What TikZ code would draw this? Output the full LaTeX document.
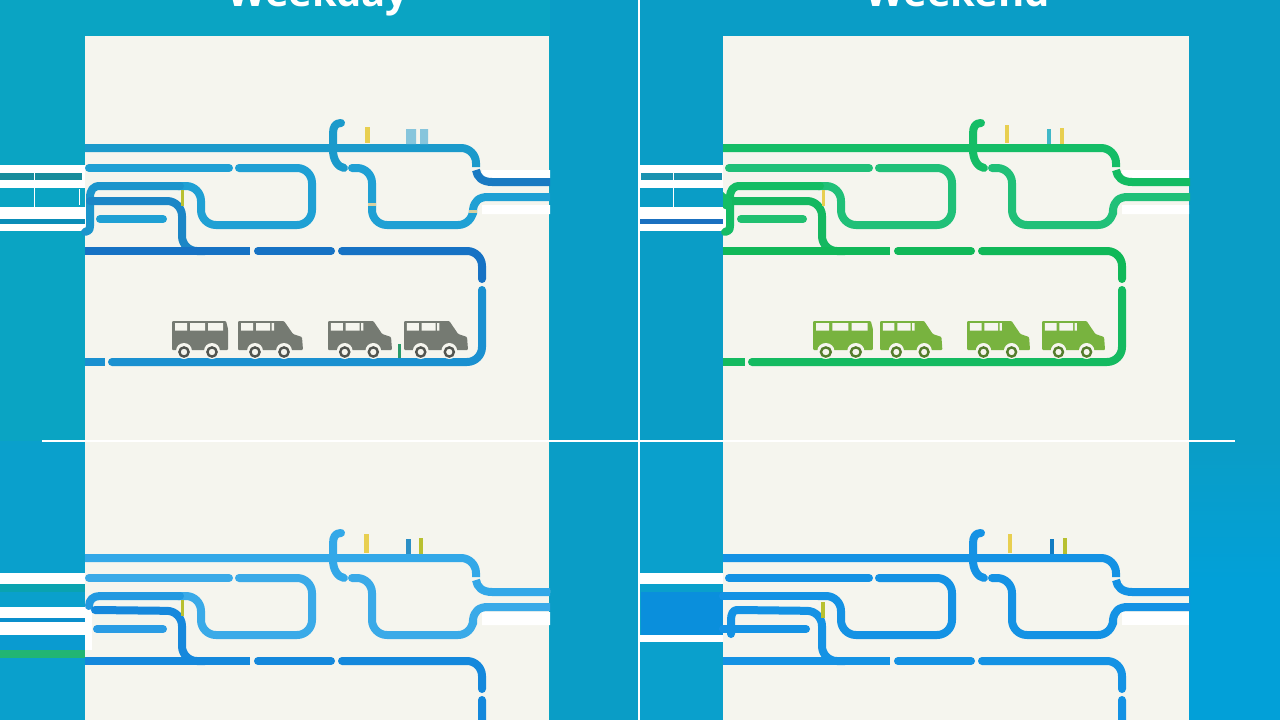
\documentclass[tikz,border=0pt]{standalone}
\usepackage{fontspec}
\setmainfont{Open Sans}
\definecolor{paper}{HTML}{F5F5EE}
\definecolor{bgA}{HTML}{0AA4C3}
\definecolor{bgB}{HTML}{0A9DC6}
\definecolor{bgC}{HTML}{0AA0CC}
\definecolor{bgD}{HTML}{02A0D8}
\definecolor{tickY}{HTML}{E8CF50}
\definecolor{tickO}{HTML}{B8C030}
\definecolor{tileB}{HTML}{86C5DC}
\definecolor{tanM}{HTML}{D8D0A0}
\tikzset{
  rail/.style={line width=8pt,line cap=round,line join=round,rounded corners=15pt},
  band/.style={fill=white,draw=none},
  title/.style={text=white,font=\bfseries\fontsize{40}{40}\selectfont,anchor=base,inner sep=0pt},
  divider/.style={draw=white,line width=2pt},
}
% colours in force: cT cS cA cC cF cB cL cR cH cV ; \xs is the panel's left edge
\newcommand{\rails}[4]{%
  \draw[rail,cT,line cap=butt] (\xs,148) -- (476,148) -- (476,167);
  \draw[rail,cR,rounded corners=0pt,line cap=butt] (476,170) .. controls (477,177) and (482,182) .. (492,182) -- (550,182);
  \draw[rail,cS] (89,168) -- (229,168);
  \draw[rail,cS] (239,168) -- (312,168) -- (312,225) -- (201,225) -- (201,186) -- (178,186);
  \draw[rail,cA,rounded corners=0pt] (180,186) #1;
  \draw[rail,cC] #2 -- (182,201) -- (182,251) -- (205,251);
  #3
  \draw[rail,cB,line cap=butt] (\xs,251) -- (250,251);
  \draw[rail,cB] (258,251) -- (331,251);
  \draw[rail,cB] (342,251) -- (482,251) -- (482,279);
  \draw[rail,cL] (482,290) -- (482,362) -- (112,362);
  \draw[rail,cL,line cap=butt] (\xs,362) -- (105,362);
  \draw[rail,cH,rounded corners=0pt] (341,123) .. controls (335,123) and (333,127) .. (333,134) -- (333,150) .. controls (333,160) and (338,167) .. (344,168);
  \draw[rail,cS] (352,168) -- (372,168) -- (372,225) -- (473,225) -- (473,214);
  \draw[rail,cS,rounded corners=0pt,line cap=butt] (473,210) .. controls (474,201) and (479,197) .. (488,197) -- (550,197);
  #4
}
\newcommand{\van}[3]{% x, y, width scale
  \begin{scope}[shift={(#1,#2)},xscale=#3]
    \fill[cV,rounded corners=1pt] (0,0) -- (46,0) -- (55,13) -- (64,16) -- (65,29) -- (0,29) -- cycle;
    \fill[paper] (3,2) rectangle (15,9.5) (18,2) rectangle (32,9.5) (33.5,2) rectangle (36,9.5);
    \foreach \w in {17,46}{
      \fill[paper] (\w,30) circle (8pt);
      \draw[cV!70!black,line width=2.4pt] (\w,31) circle (4.6pt);
    }
  \end{scope}}
\newcommand{\bus}[3]{%
  \begin{scope}[shift={(#1,#2)},xscale=#3]
    \fill[cV,rounded corners=1pt] (0,0) -- (54,0) -- (56,8) -- (56,29) -- (0,29) -- cycle;
    \fill[paper] (3,2) rectangle (15,9.5) (18,2) rectangle (33,9.5) (36,2) rectangle (51,9.5);
    \foreach \w in {12,40}{
      \fill[paper] (\w,30) circle (8pt);
      \draw[cV!70!black,line width=2.4pt] (\w,31) circle (4.6pt);
    }
  \end{scope}}
\begin{document}
\begin{tikzpicture}[x=1pt,y=-1pt]
\clip (0,0) rectangle (1280,720);
% backgrounds
\fill[bgA] (0,0) rectangle (640,720);
\fill[bgB] (640,0) rectangle (1280,720);
\fill[bgB] (550,0) rectangle (640,720);
\fill[bgC] (0,441) rectangle (85,720);
\fill[bgC] (640,441) rectangle (723,720);
\shade[top color=bgB,bottom color=bgD] (1189,441) rectangle (1280,580);
\fill[bgD] (1189,580) rectangle (1280,720);
\fill[paper] (85,36) rectangle (549,720);
\fill[paper] (723,36) rectangle (1189,720);
\node[title] (weekday) at (318,6) {Weekday};
\node[title] (weekend) at (958,6) {Weekend};
% left bands, top left
\fill[band] (0,165) rectangle (85,188);
\fill[band] (0,207) rectangle (85,231);
\fill[band] (85,207) rectangle (92,231);
\fill[band] (482,170) rectangle (550,178) (482,205) rectangle (550,214);
\fill[color={rgb,255:red,23;green,140;blue,156}] (0,173) rectangle (82,180);
\fill[bgA] (0,188) rectangle (78,207);
\fill[color={rgb,255:red,10;green,141;blue,184}] (0,219) rectangle (85,224);
\draw[white,line width=1pt] (34,173) -- (34,207);
\draw[white,line width=1pt] (79,189) -- (79,205);
% top right bands
\fill[band] (640,165) rectangle (723,188);
\fill[band] (640,207) rectangle (730,231);
\fill[band] (1122,170) rectangle (1189,178) (1122,205) rectangle (1189,214);
\fill[color={rgb,255:red,26;green,146;blue,176}] (641,173) rectangle (722,180);
\fill[bgB] (641,188) rectangle (716,207);
\fill[color={rgb,255:red,26;green,112;blue,192}] (640,219) rectangle (723,224);
\draw[white,line width=1pt] (673,173) -- (673,207);
% bottom left bands
\fill[band] (0,573) rectangle (85,584);
\fill[band] (0,607) rectangle (92,618);
\fill[band] (0,622) rectangle (92,635);
\fill[band] (85,618) rectangle (92,650);
\fill[band] (482,590) rectangle (550,593) (482,612) rectangle (550,625);
\fill[color={rgb,255:red,10;green,163;blue,176}] (0,584) rectangle (85,592);
\fill[color={rgb,255:red,10;green,143;blue,204}] (0,618) rectangle (85,622);
\fill[color={rgb,255:red,10;green,155;blue,208}] (0,635) rectangle (85,650);
\fill[color={rgb,255:red,34;green,181;blue,115}] (0,650) rectangle (85,658);
% bottom right bands
\fill[band] (640,573) rectangle (723,584);
\fill[band] (640,635) rectangle (723,642);
\fill[band] (1122,612) rectangle (1189,625);
\fill[color={rgb,255:red,10;green,143;blue,220}] (641,592) rectangle (723,635);
% panel: top left
\def\xs{85}
\definecolor{cT}{HTML}{1B9ACB}
\definecolor{cS}{HTML}{1FA0D4}
\definecolor{cA}{HTML}{1B95CC}
\definecolor{cC}{HTML}{1B86C6}
\definecolor{cF}{HTML}{1FA0D4}
\definecolor{cB}{HTML}{1672C4}
\definecolor{cL}{HTML}{1A90D0}
\definecolor{cR}{HTML}{1A7AC2}
\definecolor{cH}{HTML}{1B9ACB}
\definecolor{cV}{HTML}{757A72}
\rails{-- (100,186) .. controls (93,186) and (90,190) .. (90,198) -- (90,226) .. controls (90,230) and (88,232) .. (85,232)}
      {(90,201)}
      {\draw[rail,cF] (100,219) -- (163,219);}
      {\fill[tickO] (181,190) rectangle (184,206);
       \fill[tickY] (365,127) rectangle (370,143);
       \fill[tileB] (406,129) rectangle (416,144) (420,129) rectangle (428,144);
       \fill[tanM] (368,203) rectangle (376,206);
       \fill[tanM] (469,210) rectangle (477,213);}
\bus{172}{321}{1}
\van{238}{321}{1}
\van{328}{321}{0.985}
\van{404}{321}{0.985}
\fill[color={rgb,255:red,42;green,154;blue,106}] (398,344) rectangle (401,358);
% panel: top right
\begin{scope}[shift={(640,0)}]
\def\xs{83}
\definecolor{cT}{HTML}{14BD66}
\definecolor{cS}{HTML}{20C078}
\definecolor{cA}{HTML}{14BC64}
\definecolor{cC}{HTML}{14B860}
\definecolor{cF}{HTML}{20C070}
\definecolor{cB}{HTML}{10B858}
\definecolor{cL}{HTML}{14BA60}
\definecolor{cR}{HTML}{14BC62}
\definecolor{cH}{HTML}{14BD66}
\definecolor{cV}{HTML}{78B33F}
\rails{-- (100,186) .. controls (93,186) and (90,190) .. (90,198) -- (90,226) .. controls (90,230) and (88,232) .. (85,232)}
      {(90,201)}
      {\draw[rail,cF] (101,219) -- (163,219);}
      {\fill[tickY] (182,190) rectangle (185,206);
       \fill[tickY] (365,125) rectangle (369,143);
       \fill[color={rgb,255:red,64;green,184;blue,200}] (407,129) rectangle (411,144);
       \fill[tickY] (420,128) rectangle (424,144);
       \fill[cT] (83,192) -- (92,200) -- (92,212) -- (83,208) -- cycle;}
\bus{173}{321}{1.07}
\van{240}{321}{0.96}
\van{327}{321}{0.97}
\van{402}{321}{0.97}
\end{scope}
% panel: bottom left
\begin{scope}[shift={(0,410)}]
\def\xs{85}
\definecolor{cT}{HTML}{33A8E8}
\definecolor{cS}{HTML}{3AAAE8}
\definecolor{cA}{HTML}{2299E0}
\definecolor{cC}{HTML}{1688DC}
\definecolor{cF}{HTML}{2A9CE4}
\definecolor{cB}{HTML}{1488DC}
\definecolor{cL}{HTML}{1488DC}
\definecolor{cR}{HTML}{33A8E8}
\definecolor{cH}{HTML}{33A8E8}
\rails{-- (100,186) .. controls (93,186) and (89,190) .. (89,196)}
      {(95,200)}
      {\draw[rail,cF] (97,219) -- (163,219);}
      {\fill[tickO] (181,190) rectangle (184,206);
       \fill[tickY] (364,124) rectangle (369,143);
       \fill[cT!85!black] (406,129) rectangle (411,144);
       \fill[tickO] (419,128) rectangle (423,144);}
\end{scope}
% panel: bottom right
\begin{scope}[shift={(640,410)}]
\def\xs{83}
\definecolor{cT}{HTML}{1492E4}
\definecolor{cS}{HTML}{1492E4}
\definecolor{cA}{HTML}{1492E4}
\definecolor{cC}{HTML}{1492E4}
\definecolor{cF}{HTML}{1492E4}
\definecolor{cB}{HTML}{1492E4}
\definecolor{cL}{HTML}{1492E4}
\definecolor{cR}{HTML}{1492E4}
\definecolor{cH}{HTML}{1492E4}
\rails{-- (83,186)}
      {(97,200)}
      {\draw[rail,cF] (83,219) -- (166,219);
       \draw[rail,cC,rounded corners=0pt] (97,200) .. controls (93,200) and (91,204) .. (91,210) -- (91,224);}
      {\fill[tickO] (181,192) rectangle (185,208);
       \fill[tickY] (368,124) rectangle (372,143);
       \fill[cT!85!black] (410,129) rectangle (414,144);
       \fill[tickO] (423,128) rectangle (427,144);}
\end{scope}
% dividers
\draw[divider] (639,0) -- (639,720);
\draw[divider] (42,441) -- (1235,441);
\end{tikzpicture}
\end{document}
